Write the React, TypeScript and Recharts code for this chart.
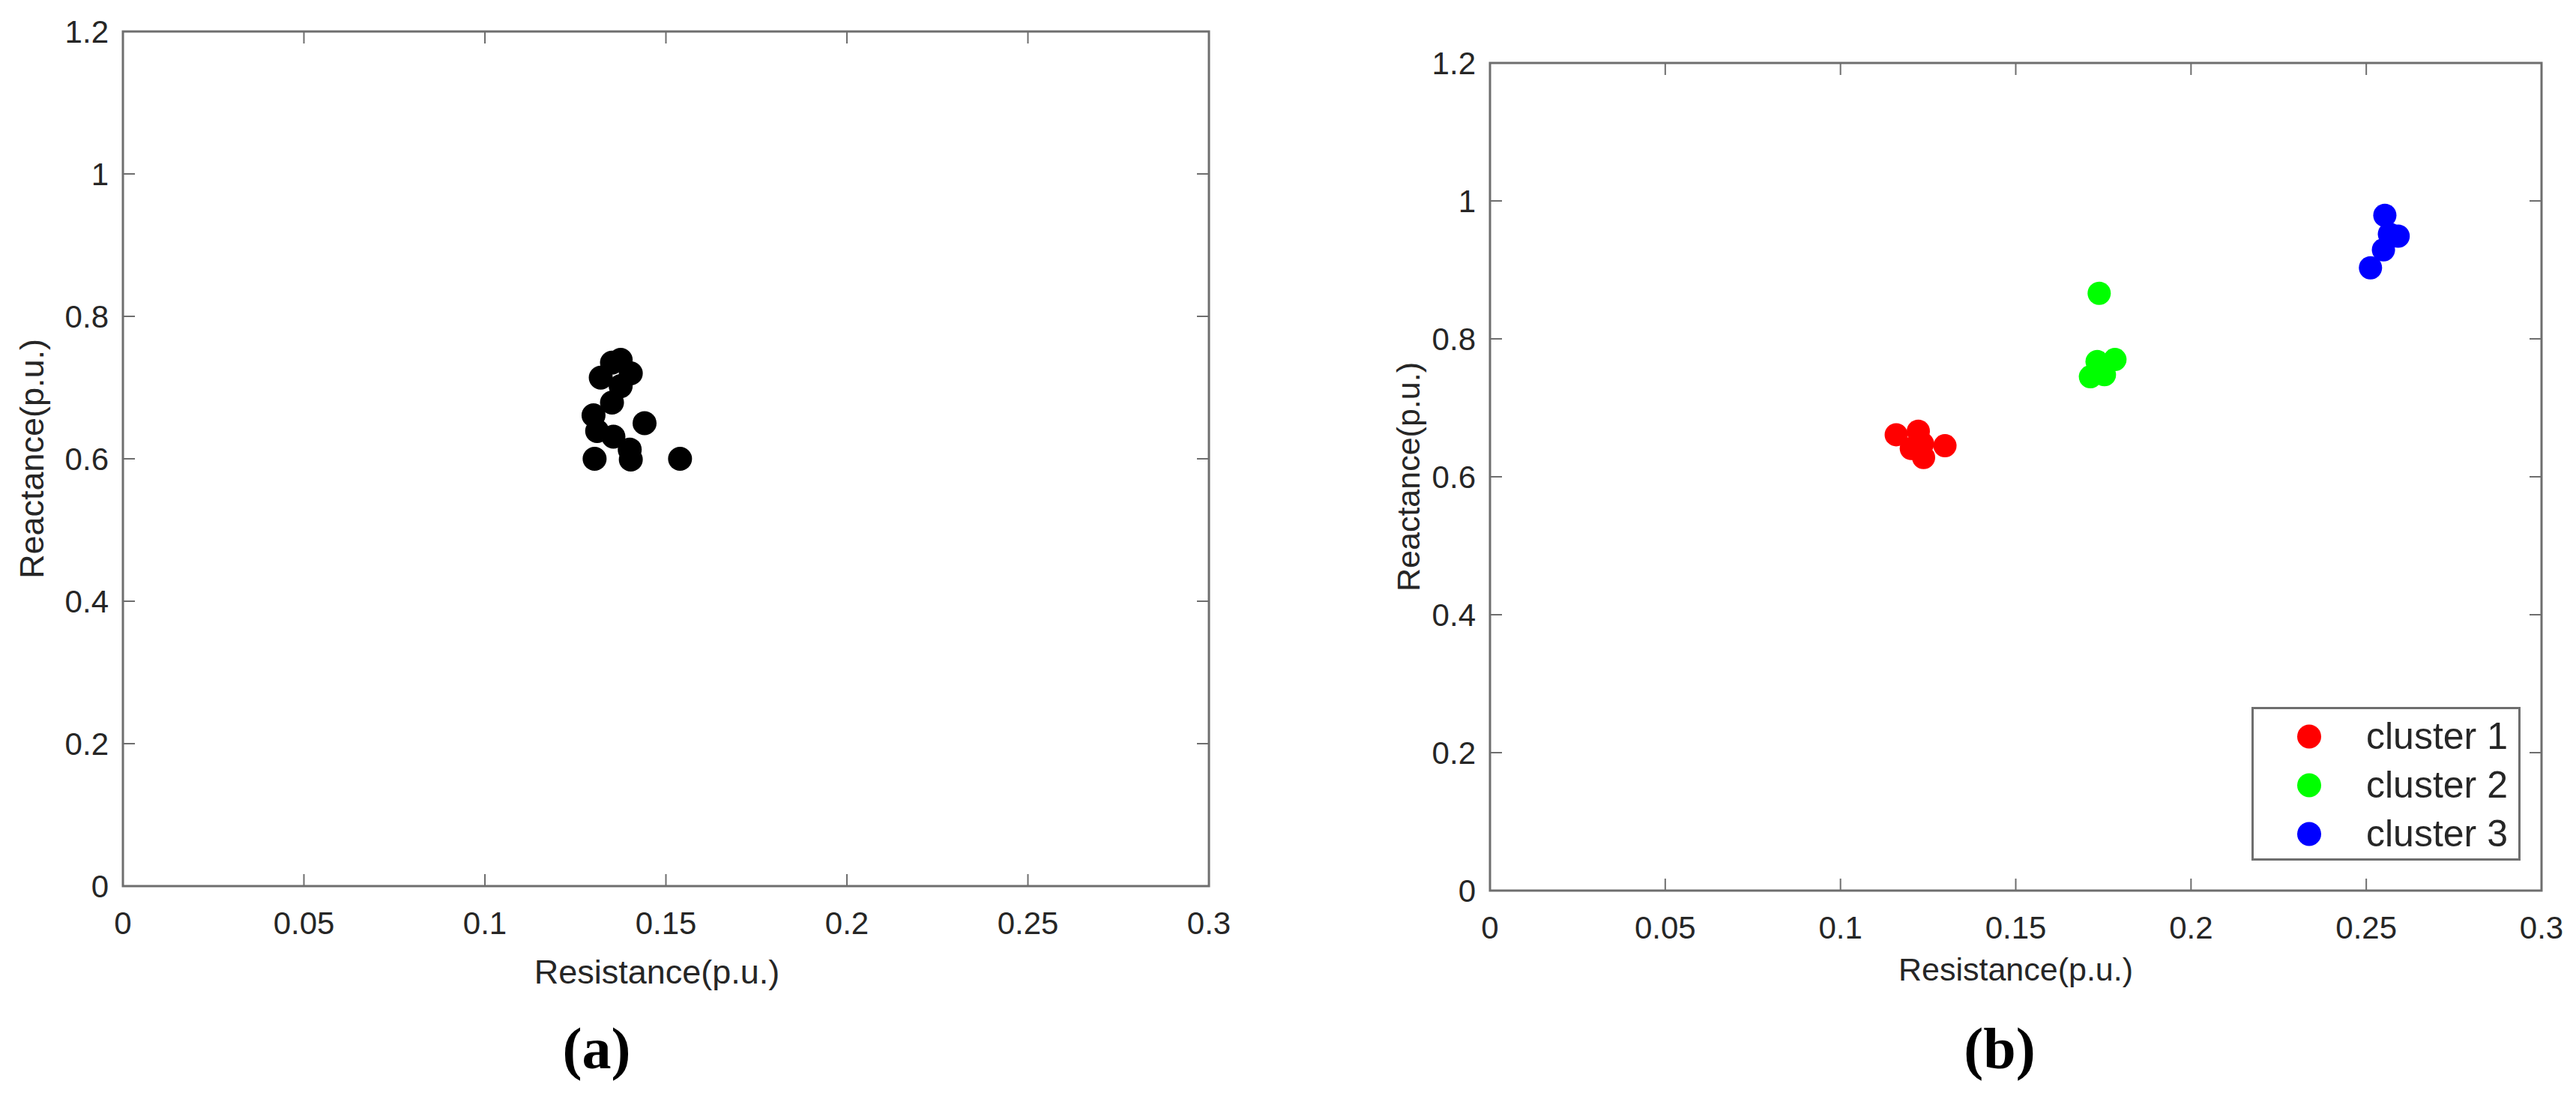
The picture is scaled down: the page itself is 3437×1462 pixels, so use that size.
import React from 'react';
import { Legend, ReferenceArea, Scatter, ScatterChart, XAxis, YAxis } from 'recharts';

// axis ticks, same for both panels
const xTicks = [0, 0.05, 0.1, 0.15, 0.2, 0.25, 0.3];
const yTicks = [0, 0.2, 0.4, 0.6, 0.8, 1, 1.2];

// (a) all samples
const allResistance = [0.132, 0.1351, 0.1375, 0.1403, 0.1375, 0.1351, 0.13, 0.131, 0.1355, 0.1441, 0.1303, 0.14, 0.1403, 0.1539];
const allReactance = [0.714, 0.735, 0.739, 0.72, 0.702, 0.679, 0.661, 0.639, 0.631, 0.65, 0.6, 0.613, 0.599, 0.6];

// (b) after clustering
const cluster1Resistance = [0.1159, 0.1222, 0.1202, 0.1237, 0.1298, 0.1234];
const cluster1Reactance = [0.661, 0.666, 0.641, 0.628, 0.645, 0.648];
const cluster2Resistance = [0.1738, 0.1732, 0.1783, 0.1713, 0.1753];
const cluster2Reactance = [0.866, 0.767, 0.77, 0.745, 0.748];
const cluster3Resistance = [0.2553, 0.2566, 0.2591, 0.2549, 0.2512];
const cluster3Reactance = [0.979, 0.952, 0.949, 0.929, 0.903];

const toPoints = (r: number[], x: number[]) => r.map((v, i) => ({ r: v, x: x[i] }));

const FONT = '"Liberation Sans", Arial, sans-serif';
const TEXT = '#262626';
const GREY = '#6e6e6e';
const CHART_H = 1462;

type Series = { name: string; color: string; data: { r: number; x: number }[] };

function XTick({ x, y, payload, plotH }: any) {
  return (
    <g>
      <line x1={x} y1={y} x2={x} y2={y - 16} stroke={GREY} strokeWidth={2} />
      <line x1={x} y1={y - plotH} x2={x} y2={y - plotH + 16} stroke={GREY} strokeWidth={2} />
      <text x={x} y={y + 64} textAnchor="middle" fontSize={42} fill={TEXT} fontFamily={FONT}>
        {String(payload.value)}
      </text>
    </g>
  );
}

function YTick({ x, y, payload, plotW }: any) {
  return (
    <g>
      <line x1={x} y1={y} x2={x + 16} y2={y} stroke={GREY} strokeWidth={2} />
      <line x1={x + plotW} y1={y} x2={x + plotW - 16} y2={y} stroke={GREY} strokeWidth={2} />
      <text x={x - 19} y={y + 15} textAnchor="end" fontSize={42} fill={TEXT} fontFamily={FONT}>
        {String(payload.value)}
      </text>
    </g>
  );
}

function ClusterLegend({ payload }: any) {
  return (
    <div
      style={{
        width: 359,
        height: 205,
        boxSizing: 'border-box',
        border: `3px solid ${GREY}`,
        background: '#fff',
        paddingTop: 4,
      }}
    >
      {(payload || []).map((item: any) => (
        <div key={item.value} style={{ height: 65, display: 'flex', alignItems: 'center' }}>
          <svg width={150} height={65}>
            <circle cx={74} cy={32.5} r={16} fill={item.color} />
          </svg>
          <span style={{ fontSize: 50, fontFamily: FONT, color: TEXT, lineHeight: '65px' }}>
            {item.value}
          </span>
        </div>
      ))}
    </div>
  );
}

interface PanelProps {
  left: number;
  width: number;
  plotLeft: number;
  plotTop: number;
  plotRight: number;
  plotBottom: number;
  series: Series[];
  radius: number;
  labelSize: number;
  yLabelX: number;
  xLabelDx: number;
  xLabelDy: number;
  legendAt?: { left: number; top: number };
}

function Panel(p: PanelProps) {
  const plotW = p.plotRight - p.plotLeft;
  const plotH = p.plotBottom - p.plotTop;
  return (
    <div style={{ position: 'absolute', left: p.left, top: 0 }}>
      <ScatterChart
        width={p.width}
        height={CHART_H}
        margin={{
          top: p.plotTop,
          right: p.width - p.plotRight,
          bottom: CHART_H - p.plotBottom - 100,
          left: 0,
        }}
      >
        <XAxis
          type="number"
          dataKey="r"
          domain={[0, 0.3]}
          ticks={xTicks}
          interval={0}
          allowDataOverflow
          axisLine={false}
          tickLine={false}
          tickSize={0}
          tickMargin={0}
          height={100}
          tick={<XTick plotH={plotH} />}
          label={(lp: any) => {
            const vb = lp.viewBox;
            return (
              <text
                x={vb.x + vb.width / 2 + p.xLabelDx}
                y={vb.y + p.xLabelDy}
                textAnchor="middle"
                fontSize={p.labelSize}
                fill={TEXT}
                fontFamily={FONT}
              >
                Resistance(p.u.)
              </text>
            );
          }}
        />
        <YAxis
          type="number"
          dataKey="x"
          domain={[0, 1.2]}
          ticks={yTicks}
          interval={0}
          allowDataOverflow
          axisLine={false}
          tickLine={false}
          tickSize={0}
          tickMargin={0}
          width={p.plotLeft}
          tick={<YTick plotW={plotW} />}
          label={(lp: any) => {
            const vb = lp.viewBox;
            const cy = vb.y + vb.height / 2;
            return (
              <text
                x={p.yLabelX}
                y={cy}
                transform={`rotate(-90 ${p.yLabelX} ${cy})`}
                textAnchor="middle"
                fontSize={p.labelSize}
                fill={TEXT}
                fontFamily={FONT}
              >
                Reactance(p.u.)
              </text>
            );
          }}
        />
        <ReferenceArea
          x1={0}
          x2={0.3}
          y1={0}
          y2={1.2}
          fill="#fff"
          fillOpacity={0}
          stroke={GREY}
          strokeWidth={3}
          strokeOpacity={1}
        />
        {p.series.map(s => (
          <Scatter
            key={s.name}
            name={s.name}
            data={s.data}
            fill={s.color}
            isAnimationActive={false}
            shape={(sp: any) => <circle cx={sp.cx} cy={sp.cy} r={p.radius} fill={s.color} />}
          />
        ))}
        {p.legendAt && (
          <Legend
            layout="vertical"
            align="center"
            verticalAlign="middle"
            wrapperStyle={{ left: p.legendAt.left, top: p.legendAt.top, width: 359 }}
            content={<ClusterLegend />}
          />
        )}
      </ScatterChart>
    </div>
  );
}

export default function App() {
  const allSeries: Series[] = [
    { name: 'samples', color: '#000000', data: toPoints(allResistance, allReactance) },
  ];
  const clusterSeries: Series[] = [
    { name: 'cluster 1', color: '#ff0000', data: toPoints(cluster1Resistance, cluster1Reactance) },
    { name: 'cluster 2', color: '#00ff00', data: toPoints(cluster2Resistance, cluster2Reactance) },
    { name: 'cluster 3', color: '#0000ff', data: toPoints(cluster3Resistance, cluster3Reactance) },
  ];

  return (
    <div style={{ position: 'absolute', left: 0, top: 0, width: 3437, height: CHART_H, background: '#fff' }}>
      <Panel
        left={0}
        width={1718}
        plotLeft={164}
        plotTop={42}
        plotRight={1613}
        plotBottom={1182}
        series={allSeries}
        radius={16}
        labelSize={45}
        yLabelX={58}
        xLabelDx={-12}
        xLabelDy={130}
      />
      <Panel
        left={1718}
        width={1719}
        plotLeft={270}
        plotTop={84}
        plotRight={1673}
        plotBottom={1188}
        series={clusterSeries}
        radius={15.5}
        labelSize={43}
        yLabelX={176}
        xLabelDx={0}
        xLabelDy={120}
        legendAt={{ left: 3004 - 1718, top: 943 }}
      />
      <svg
        width={3437}
        height={CHART_H}
        style={{ position: 'absolute', left: 0, top: 0, pointerEvents: 'none' }}
      >
        <text x={796} y={1425} textAnchor="middle" fontSize={78} fontWeight="bold" fontFamily='"Liberation Serif", "Times New Roman", serif' fill="#000">
          (a)
        </text>
        <text x={2668} y={1425} textAnchor="middle" fontSize={78} fontWeight="bold" fontFamily='"Liberation Serif", "Times New Roman", serif' fill="#000">
          (b)
        </text>
      </svg>
    </div>
  );
}
